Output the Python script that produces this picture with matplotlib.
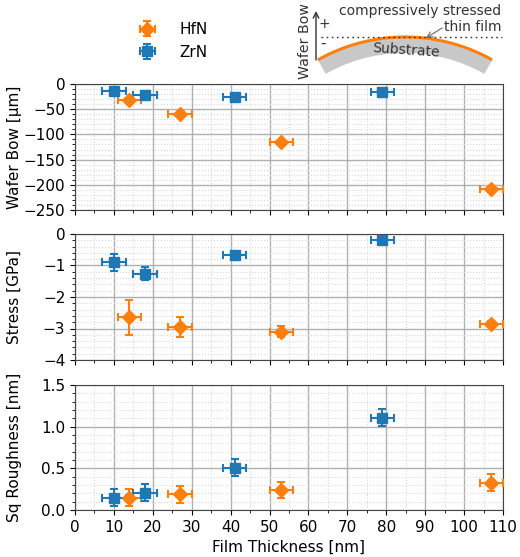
import numpy as np
import matplotlib
matplotlib.use("Agg")
import matplotlib.pyplot as plt
from matplotlib.ticker import AutoMinorLocator, MultipleLocator
from matplotlib.patches import Polygon

# ---------------- data ----------------
hfn_thick = [14, 27, 53, 107]
hfn_thick_err = [3, 3, 3, 3]
zrn_thick = [10, 18, 41, 79]
zrn_thick_err = [3, 3, 3, 3]

hfn_bow = [-31, -60, -116, -208]
hfn_bow_err = [2, 2, 2, 2]
zrn_bow = [-13, -22, -26, -16]
zrn_bow_err = [2, 2, 2, 2]

hfn_stress = [-2.65, -2.94, -3.10, -2.85]
hfn_stress_err = [0.57, 0.32, 0.17, 0.08]
zrn_stress = [-0.89, -1.26, -0.68, -0.20]
zrn_stress_err = [0.27, 0.20, 0.10, 0.10]

hfn_rough = [0.15, 0.19, 0.24, 0.33]
hfn_rough_err = [0.10, 0.10, 0.10, 0.10]
zrn_rough = [0.15, 0.21, 0.51, 1.11]
zrn_rough_err = [0.10, 0.10, 0.10, 0.10]

labels = ["HfN", "ZrN"]
xticks = list(range(0, 111, 10))

# ---------------- figure ----------------
W, H = 520, 557
fig = plt.figure(figsize=(W / 100, H / 100), dpi=100)
plt.rcParams['font.family'] = ['DejaVu Sans']
FS = 11

def px_axes(x0, y0, x1, y1):
    return fig.add_axes([x0 / W, 1 - y1 / H, (x1 - x0) / W, (y1 - y0) / H])

ax1 = px_axes(75, 84, 503, 210)
ax2 = px_axes(75, 234, 503, 360)
ax3 = px_axes(75, 385, 503, 510)

orange = '#ff7f0e'
blue = '#1f77b4'

def draw(ax, hy, hye, zy, zye):
    h = ax.errorbar(hfn_thick, hy, xerr=hfn_thick_err, yerr=hye, fmt='D', color=orange,
                    markersize=7, capsize=3, elinewidth=1.5, capthick=1.5, zorder=3)
    z = ax.errorbar(zrn_thick, zy, xerr=zrn_thick_err, yerr=zye, fmt='s', color=blue,
                    markersize=6.5, capsize=3, elinewidth=1.5, capthick=1.5, zorder=3)
    ax.set_xlim(0, 110)
    ax.set_xticks(xticks)
    ax.xaxis.set_minor_locator(AutoMinorLocator(2))
    ax.yaxis.set_minor_locator(AutoMinorLocator(5))
    ax.grid(which='major', color='#b0b0b0', linewidth=1.0)
    ax.grid(which='minor', color='#d8d8d8', linestyle=':', linewidth=0.8)
    ax.set_axisbelow(True)
    ax.tick_params(labelsize=FS)
    for s in ax.spines.values():
        s.set_color('#444444')
    return h, z

h, z = draw(ax1, hfn_bow, hfn_bow_err, zrn_bow, zrn_bow_err)
ax1.set_ylim(-250, 0)
ax1.yaxis.set_major_locator(MultipleLocator(50))
ax1.set_ylabel("Wafer Bow [µm]", fontsize=FS)
ax1.tick_params(labelbottom=False)

draw(ax2, hfn_stress, hfn_stress_err, zrn_stress, zrn_stress_err)
ax2.set_ylim(-4, 0)
ax2.yaxis.set_major_locator(MultipleLocator(1))
ax2.set_ylabel("Stress [GPa]", fontsize=FS)
ax2.tick_params(labelbottom=False)

draw(ax3, hfn_rough, hfn_rough_err, zrn_rough, zrn_rough_err)
ax3.set_ylim(0, 1.5)
ax3.yaxis.set_major_locator(MultipleLocator(0.5))
ax3.set_ylabel("Sq Roughness [nm]", fontsize=FS)
ax3.set_xlabel("Film Thickness [nm]", fontsize=FS)

for ax in (ax1, ax2, ax3):
    ax.yaxis.set_label_coords(-0.125, 0.5)

fig.legend([h, z], labels, loc='center', bbox_to_anchor=(170 / W, 1 - 41 / H),
           frameon=False, fontsize=FS, handletextpad=1.1)

# ---------------- schematic inset ----------------
ins = px_axes(295, 0, 505, 80)
ins.set_xlim(295, 505)
ins.set_ylim(80, 0)
ins.axis('off')
IFS = 10
ink = '#333333'

cx, cy, R, thick = 405, 214, 177, 16
th = np.linspace(np.radians(-29.5), np.radians(29.5), 100)
outer = np.column_stack([cx + R * np.sin(th), cy - R * np.cos(th)])
inner = np.column_stack([cx + (R - thick) * np.sin(th[::-1]), cy - (R - thick) * np.cos(th[::-1])])
ins.add_patch(Polygon(np.vstack([outer, inner]), closed=True, facecolor='#c8c8c8', edgecolor='none'))
ins.plot(outer[:, 0], outer[:, 1], color=orange, linewidth=2.2, solid_capstyle='butt')
ins.plot([321, 502], [36.5, 36.5], color=ink, linestyle=(0, (1.2, 2.5)), linewidth=1)
ins.annotate("", xy=(316, 11), xytext=(316, 60),
             arrowprops=dict(arrowstyle='->', color=ink, lw=1, shrinkA=0, shrinkB=0))
ins.text(305, 41, "Wafer Bow", rotation=90, ha='center', va='center', fontsize=10.2, color=ink)
ins.text(324, 24, "+", ha='center', va='center', fontsize=10, color=ink)
ins.text(323, 43, "-", ha='center', va='center', fontsize=11, color=ink, zorder=5)
ins.text(501, 11, "compressively stressed", ha='right', va='center', fontsize=IFS, color=ink)
ins.text(501, 27, "thin film", ha='right', va='center', fontsize=IFS, color=ink)
ins.annotate("", xy=(426, 38), xytext=(442, 28),
             arrowprops=dict(arrowstyle='->', color='#666666', lw=0.8, shrinkA=0, shrinkB=0))
ins.text(406, 50, "Substrate", rotation=-4, ha='center', va='center', fontsize=IFS, color=ink)

fig.savefig("out.png", dpi=100)
